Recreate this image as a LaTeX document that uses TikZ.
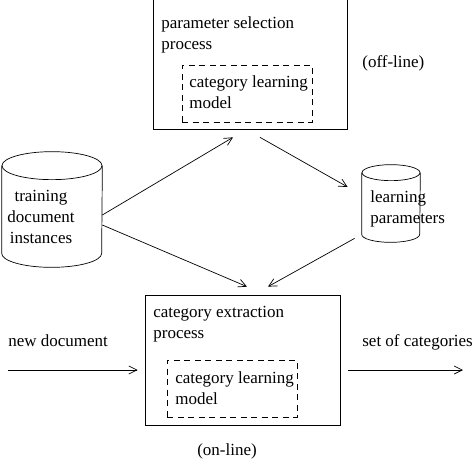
\documentclass[tikz,border=0pt]{standalone}
\usepackage{fontspec}
\setmainfont{Liberation Serif}
\usetikzlibrary{positioning, calc, arrows.meta}

\begin{document}
\begin{tikzpicture}[
    x=1pt, y=1pt,
    font=\fontsize{17}{21}\selectfont,
    every path/.style={line width=0.7pt},
    procbox/.style={rectangle, draw, inner sep=0pt},
    modelbox/.style={rectangle, draw, dash pattern=on 6pt off 4.5pt, inner sep=0pt},
    txt/.style={inner sep=0pt, align=left, anchor=base west},
    db/.style={rectangle, inner sep=0pt},
    arrow/.style={-{Straight Barb[length=8pt,width=8pt]}}
]
    \useasboundingbox (0,0) rectangle (474,-458);

    % off-line part
    \node[procbox, minimum width=194pt, minimum height=139pt] (param) at (250,-59.5) {};
    \node[txt] (paramtxt) at (161,-49) {parameter selection\\process};
    \node[modelbox, minimum width=130pt, minimum height=57pt] (parammodel) at (247,-93.5) {};
    \node[txt] (parammodeltxt) at (189,-108) {category learning\\model};
    \node[txt] (offline) at (362,-67) {(off-line)};

    % training documents
    \node[db, minimum width=100pt, minimum height=115pt] (train) at (52,-209.5) {};
    \draw ([yshift=-14pt]train.north west) -- ([yshift=14pt]train.south west)
        arc[start angle=180, end angle=360, x radius=50pt, y radius=14pt]
        -- ([yshift=-14pt]train.north east);
    \draw ([yshift=-14pt]train.north) ellipse [x radius=50pt, y radius=14pt];
    \node[inner sep=0pt, align=center, anchor=base] (traintxt) at (41,-243) {training\\document\\instances};

    % learning parameters
    \node[db, minimum width=58pt, minimum height=77pt] (learn) at (391,-203.5) {};
    \draw ([yshift=-8pt]learn.north west) -- ([yshift=8pt]learn.south west)
        arc[start angle=180, end angle=360, x radius=29pt, y radius=8pt]
        -- ([yshift=-8pt]learn.north east);
    \draw ([yshift=-8pt]learn.north) ellipse [x radius=29pt, y radius=8pt];
    \node[txt] (learntxt) at (370,-223) {learning\\parameters};

    % on-line part
    \node[procbox, minimum width=195pt, minimum height=130pt] (extract) at (242.5,-360) {};
    \node[txt] (extracttxt) at (153,-338) {category extraction\\process};
    \node[modelbox, minimum width=130pt, minimum height=57pt] (extractmodel) at (232,-388.5) {};
    \node[txt] (extractmodeltxt) at (175,-404) {category learning\\model};
    \node[inner sep=0pt, anchor=base] (online) at (227,-455) {(on-line)};

    \node[txt] (newdoc) at (8,-346) {new document};
    \node[txt] (cats) at (362,-346) {set of categories};
    \coordinate (in) at (8,-370);
    \coordinate (out) at (463,-370);

    \draw[arrow] ($(train.east)+(0,-5.5)$) -- ($(param.south)+(-17,-8)$);
    \draw[arrow] ($(train.east)+(0,-15.5)$) -- ($(extract.north)+(4.5,8)$);
    \draw[arrow] ($(param.south)+(10,-8)$) -- ($(learn.west)+(-14,16.5)$);
    \draw[arrow] ($(learn.south west)+(-7,4)$) -- ($(extract.north)+(25.5,8)$);
    \draw[arrow] (in) -- ($(extract.west |- in)+(-7,0)$);
    \draw[arrow] ($(extract.east |- out)+(8,0)$) -- (out);
\end{tikzpicture}
\end{document}
